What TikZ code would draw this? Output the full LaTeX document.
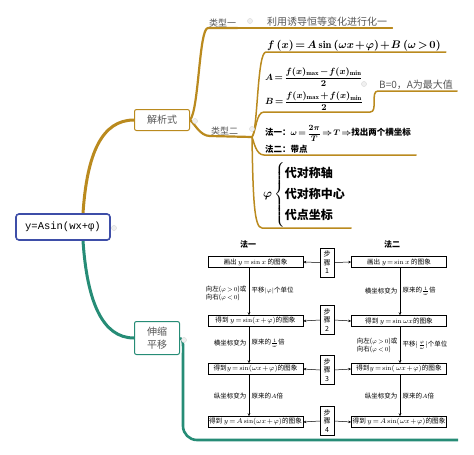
\documentclass[tikz,border=0pt]{standalone}
\usepackage{amsmath}
\usepackage{fontspec}
\usepackage{tikz}
\usetikzlibrary{arrows.meta}
\usetikzlibrary{backgrounds}
\usetikzlibrary{calc}
\usetikzlibrary{positioning}
\newfontfamily\cjk{Noto Sans CJK SC}
\newfontfamily\rootfont{Liberation Mono}
\definecolor{gold}{RGB}{186,138,30}
\definecolor{sea}{RGB}{38,140,118}
\definecolor{navy}{RGB}{62,78,168}
\definecolor{ink}{RGB}{85,85,85}
\newcommand{\tightmath}{\medmuskip=1.5mu\thickmuskip=2.5mu}

\tikzset{
  topic/.style={draw=gold, line width=1pt, rounded corners=2pt, fill=white, text=ink,
    font=\cjk\fontsize{10}{12}\selectfont, minimum height=21pt},
  knob/.style={circle, fill=gray!12, draw=gray!30, inner sep=1.8pt},
  tag/.style={font=\cjk\fontsize{9}{11}\selectfont, text=ink, inner sep=1pt},
  branch/.style={draw=gold, line width=2.2pt, line cap=round},
  twig/.style={draw=gold, line width=1.5pt, line cap=round},
  flowbox/.style={draw, line width=0.5pt, inner sep=0.8pt, minimum width=95pt,
    minimum height=11pt, font=\cjk\fontsize{6.6}{8}\selectfont\tightmath},
  stepbox/.style={draw, line width=0.5pt, inner sep=1pt, minimum width=14pt,
    minimum height=29pt, align=center, font=\cjk\fontsize{7}{8.5}\selectfont},
  note/.style={font=\cjk\fontsize{6.5}{8}\selectfont\tightmath, inner sep=0.5pt, align=left},
  flow/.style={-{Stealth[length=3pt,width=2.5pt]}, line width=0.5pt}
}

\begin{document}
\begin{tikzpicture}[x=1pt, y=-1pt]
  \useasboundingbox (0,0) rectangle (474,455);

  % centre and main topics
  \node[draw=navy, line width=1.6pt, rounded corners=3pt, minimum width=94pt, minimum height=26pt,
        font=\rootfont\fontsize{10.5}{12}\selectfont] (root) at (63,227) {y=Asin(wx+φ)};
  \node[knob] (rootknob) at (114,228) {};
  \node[topic, minimum width=55pt] (jiexi) at (162,120) {解析式};
  \node[knob] (jiexiknob) at (195,121) {};
  \node[topic, draw=sea, minimum width=45pt, minimum height=33pt, align=center,
        font=\cjk\fontsize{10}{12.5}\selectfont] (shensuo) at (157,338) {伸缩\\平移};
  \node[knob] (shensuoknob) at (184,340) {};

  % analytic form
  \node[tag, anchor=south west] (type1) at (208,28) {类型一};
  \node[knob] (type1knob) at (250,21) {};
  \node[tag, anchor=south west, font=\cjk\fontsize{10}{12}\selectfont] (rule1) at (266,28) {利用诱导恒等变化进行化一};
  \node[tag, anchor=south west] (type2) at (210,136) {类型二};
  \node[knob] (type2knob) at (252,129) {};
  \coordinate (hub) at (252,137);

  \node[anchor=south west, inner sep=1pt, font=\fontsize{10.5}{13}\selectfont\boldmath\tightmath] (fx) at (266,52)
    {$f\left(x\right)=A\sin\left(\omega x+\varphi\right)+B\left(\omega>0\right)$};
  \node[anchor=south west, inner sep=1pt, align=left, font=\fontsize{9.5}{11}\selectfont\boldmath\tightmath] (frac) at (264,112)
    {$A=\dfrac{f(x)_{\max}-f(x)_{\min}}{2}$\\[5pt] $B=\dfrac{f(x)_{\max}+f(x)_{\min}}{2}$};
  \node[knob] (fracknob) at (364,84) {};
  \node[tag, anchor=south west, font=\cjk\fontsize{10}{12}\selectfont] (bzero) at (378,91) {B=0，A为最大值};
  \node[anchor=south west, inner sep=1pt, align=left, font=\cjk\bfseries\fontsize{8.5}{11}\selectfont\tightmath] (fa) at (264,155)
    {法一：$\boldsymbol{\omega=\dfrac{2\pi}{T}\Rightarrow T\Rightarrow}$找出两个横坐标\\[3pt] 法二：带点};
  \node[anchor=south west, inner sep=1pt, font=\cjk\bfseries\fontsize{12}{21}\selectfont] (phi) at (262,228)
    {$\boldsymbol{\varphi}\left\{\begin{tabular}{@{}l@{}}代对称轴\\代对称中心\\代点坐标\end{tabular}\right.$};

  % flow chart
  \node[font=\cjk\bfseries\fontsize{8}{9}\selectfont] (head1) at (248,244) {法一};
  \node[font=\cjk\bfseries\fontsize{8}{9}\selectfont] (head2) at (392,244) {法二};
  \node[flowbox] (l1) at (255.5,262) {画出 $y=\sin x$ 的图象};
  \node[flowbox] (r1) at (399,262) {画出 $y=\sin x$ 的图象};
  \node[flowbox] (l2) at (255.5,321) {得到 $y=\sin(x+\varphi)$的图象};
  \node[flowbox] (r2) at (399,321) {得到 $y=\sin\omega x$的图象};
  \node[flowbox] (l3) at (255.5,369) {得到$y=\sin(\omega x+\varphi)$的图象};
  \node[flowbox] (r3) at (399,369) {得到$y=\sin(\,\omega x+\varphi)$的图象};
  \node[flowbox] (l4) at (255.5,422) {得到 $y=A\sin(\omega x+\varphi)$的图象};
  \node[flowbox] (r4) at (399,422) {得到 $y=A\sin(\omega x+\varphi)$的图象};
  \foreach \n/\y in {1/262.5, 2/320, 3/370, 4/421}
    \node[stepbox] (s\n) at (327,\y) {步\\骤\\\n};

  \node[note, anchor=east] (n1a) at (247,293) {向左($\varphi>0$)或\\向右($\varphi<0$)};
  \node[note, anchor=west] (n1b) at (251,290) {平移$|\varphi|$个单位};
  \node[note, anchor=east] (n1c) at (398,291) {横坐标变为};
  \node[note, anchor=west] (n1d) at (402,291) {原来的$\frac{1}{\omega}$倍};
  \node[note, anchor=east] (n2a) at (247,343) {横坐标变为};
  \node[note, anchor=west] (n2b) at (251,343) {原来的$\frac{1}{\omega}$倍};
  \node[note, anchor=east] (n2c) at (398,345) {向左($\varphi>0$)或\\向右($\varphi<0$)};
  \node[note, anchor=west] (n2d) at (402,345) {平移$\left|\frac{\varphi}{\omega}\right|$个单位};
  \node[note, anchor=east] (n3a) at (247,396) {纵坐标变为};
  \node[note, anchor=west] (n3b) at (251,396) {原来的$A$倍};
  \node[note, anchor=east] (n3c) at (398,396) {纵坐标变为};
  \node[note, anchor=west] (n3d) at (402,396) {原来的$A$倍};

  \coordinate (lcol) at (249,0);
  \coordinate (rcol) at (400,0);
  \coordinate (tealcorner) at (183,440);
  \coordinate (tealend) at (458,440);

  \begin{scope}[on background layer]
    \draw[draw=gold, line width=3pt, line cap=round] ([xshift=20pt]root.north) .. controls +(4,-60) and +(-32,0) .. (jiexi.west);
    \draw[draw=sea, line width=3pt, line cap=round] ([xshift=20pt]root.south) .. controls +(4,60) and +(-32,0) .. (shensuo.west);
    \draw[draw=sea, line width=2.6pt, rounded corners=14pt] (shensuo.east) .. controls +(4,0) and +(0,-20) .. ($(tealcorner)+(0,-70)$)
      -- (tealcorner) -- (tealend);

    \draw[branch] (jiexi.east) .. controls +(9,-10) and +(-9,0) .. (type1.south west) -- (type1.south east);
    \draw[twig] (type1.south east) -- ($(rule1.south east)+(4,0)$);
    \draw[branch] (jiexi.east) .. controls +(5,4) and +(-10,0) .. (type2.south west) -- (hub);
    \draw[twig] (hub) .. controls +(6,-7) and +(-9,0) .. (fx.south west) -- ($(fx.south east)+(4,0)$);
    \draw[twig] (hub) .. controls +(4,-5) and +(-8,0) .. (frac.south west) -- ($(frac.south east)+(6,0)$)
      .. controls +(8,0) and +(-8,0) .. (bzero.south west) -- ($(bzero.south east)+(3,0)$);
    \draw[twig] (hub) .. controls +(2,5) and +(-8,0) .. (fa.south west) -- ($(fa.south east)+(4,0)$);
    \draw[twig] (hub) .. controls +(1,60) and +(-8,0) .. (phi.south west) -- ($(phi.south east)+(4,0)$);
  \end{scope}

  \foreach \n in {1,...,4} {
    \draw[flow] (s\n.west) -- (l\n.east);
    \draw[flow] (s\n.east) -- (r\n.west);
  }
  \foreach \a/\b in {1/2, 2/3, 3/4} {
    \draw[flow] (l\a.south -| lcol) -- (l\b.north -| lcol);
    \draw[flow] (r\a.south -| rcol) -- (r\b.north -| rcol);
  }
\end{tikzpicture}
\end{document}
